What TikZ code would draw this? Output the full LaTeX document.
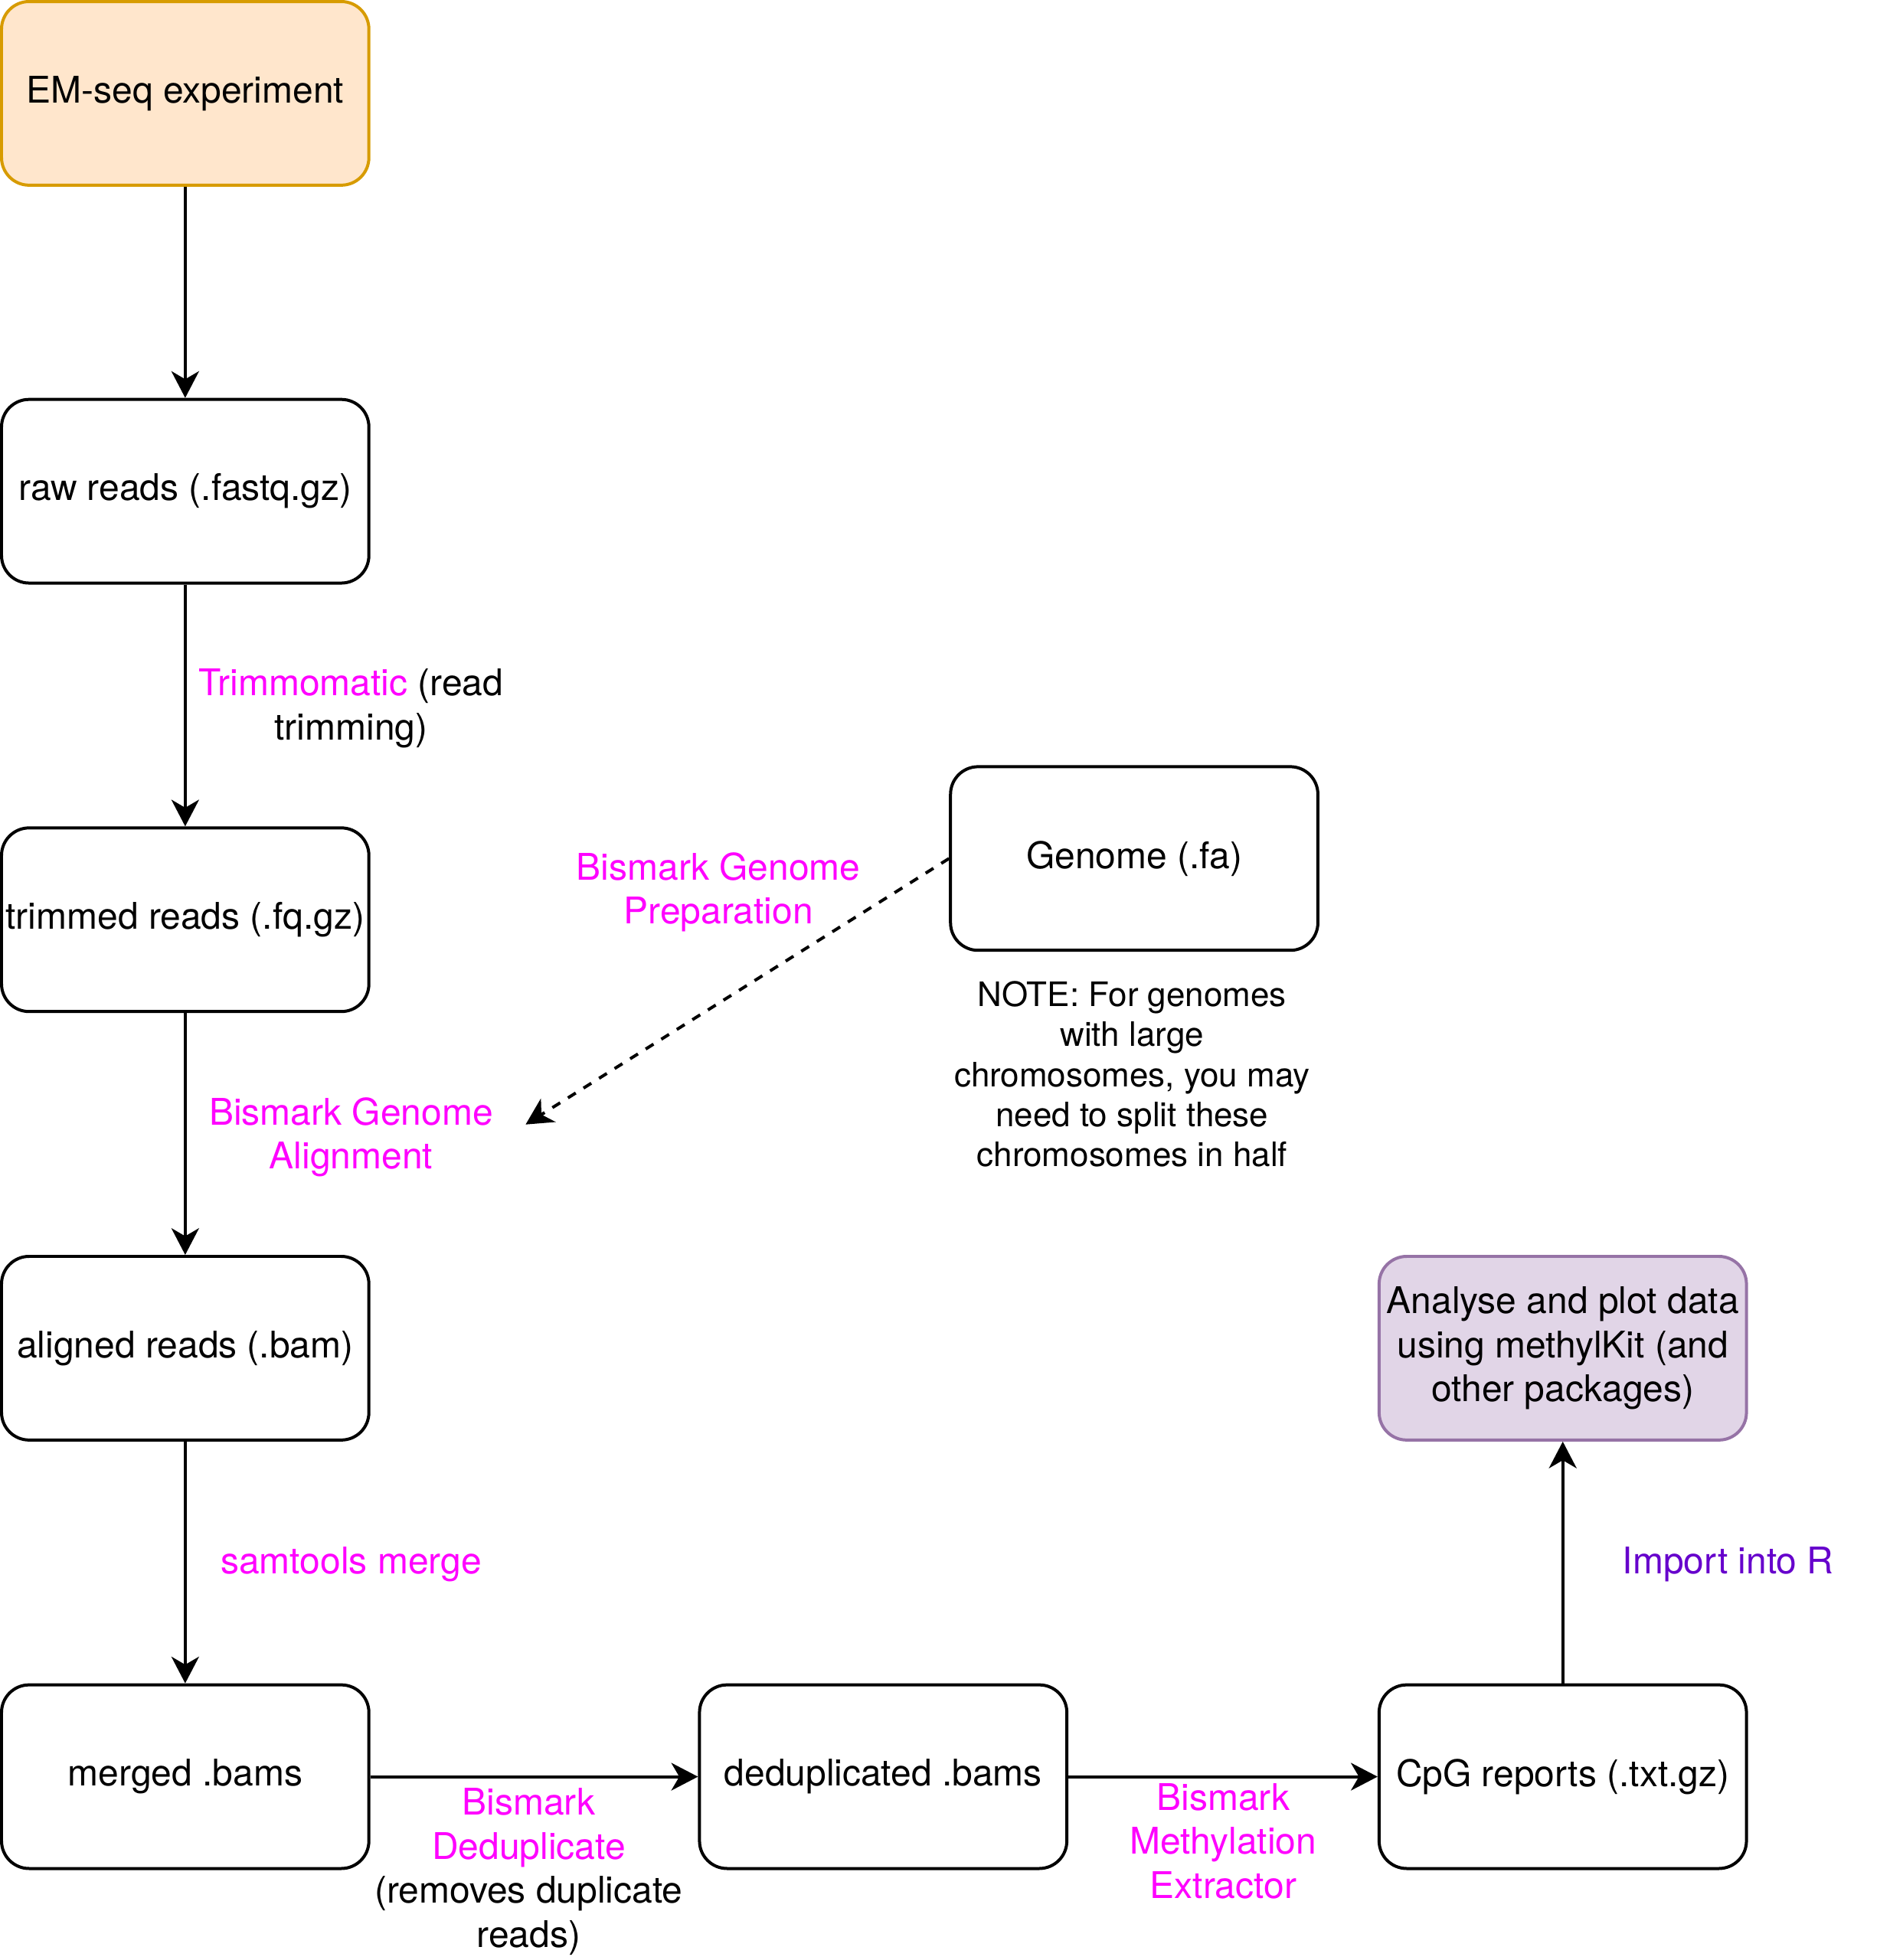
\documentclass[tikz,border=0pt]{standalone}
\usepackage{fontspec}
\setmainfont{TeX Gyre Heros}
\usepackage{xcolor}
\usetikzlibrary{arrows.meta}
\definecolor{toolpink}{HTML}{FF00FF}
\definecolor{rpurple}{HTML}{6600CC}
\definecolor{orangefill}{HTML}{FFE6CC}
\definecolor{orangeline}{HTML}{D79B00}
\definecolor{purplefill}{HTML}{E1D5E7}
\definecolor{purpleline}{HTML}{9673A6}

\begin{document}
\begin{tikzpicture}[x=1pt,y=-1pt,
  box/.style={draw, line width=1pt, rounded corners=9pt, minimum width=120pt, minimum height=60pt, inner sep=0pt, align=center, font=\fontsize{12}{14.4}\selectfont},
  lbl/.style={align=center, inner sep=0pt, font=\fontsize{12}{14.4}\selectfont},
  flow/.style={line width=1pt, -{Stealth[length=8.7pt,width=9pt,inset=2.6pt]}}]
\useasboundingbox (0,0) rectangle (621.4,640.4);

%left column
\node[box, fill=orangefill, draw=orangeline] (em) at (60.5,30.5) {EM-seq experiment};
\node[box] (raw) at (60.5,160.5) {raw reads (.fastq.gz)};
\node[box] (trim) at (60.5,300.5) {trimmed reads (.fq.gz)};
\node[box] (aligned) at (60.5,440.5) {aligned reads (.bam)};
\node[box] (merged) at (60.5,580.5) {merged .bams};

%bottom row
\node[box] (dedup) at (288.5,580.5) {deduplicated .bams};
\node[box] (cpg) at (510.5,580.5) {CpG reports (.txt.gz)};
\node[box, fill=purplefill, draw=purpleline] (analyse) at (510.5,440.5) {Analyse and plot data\\using methylKit (and\\other packages)};

%genome
\node[box] (genome) at (370.5,280.5) {Genome (.fa)};
\node[lbl, font=\fontsize{11}{13.1}\selectfont] (note) at (369.8,351) {NOTE: For genomes\\with large\\chromosomes, you may\\need to split these\\chromosomes in half};
\coordinate (gtip) at (171.7,367.4);

%labels
\node[lbl] (trimlbl) at (114.7,231.5) {\textcolor{toolpink}{Trimmomatic} (read\\trimming)};
\node[lbl, text=toolpink] (preplbl) at (234.7,291.5) {Bismark Genome\\Preparation};
\node[lbl, text=toolpink] (alnlbl) at (114.7,371.5) {Bismark Genome\\Alignment};
\node[lbl, text=toolpink] (mergelbl) at (114.7,511) {samtools merge};
\node[lbl, text=rpurple] (rlbl) at (564.5,511) {Import into R};
\node[lbl] (deduplbl) at (172.7,611.5) {\textcolor{toolpink}{Bismark}\\\textcolor{toolpink}{Deduplicate}\\(removes duplicate\\reads)};
\node[lbl, text=toolpink] (methlbl) at (399.6,601.5) {Bismark\\Methylation\\Extractor};

\draw[flow] (em) -- (raw);
\draw[flow] (raw) -- (trim);
\draw[flow] (trim) -- (aligned);
\draw[flow] (aligned) -- (merged);
\draw[flow] (merged) -- (dedup);
\draw[flow] (dedup) -- (cpg);
\draw[flow] (cpg) -- (analyse);
\draw[flow, dash pattern=on 3pt off 3pt] (genome.west) -- (gtip); %dashed
\end{tikzpicture}
\end{document}
